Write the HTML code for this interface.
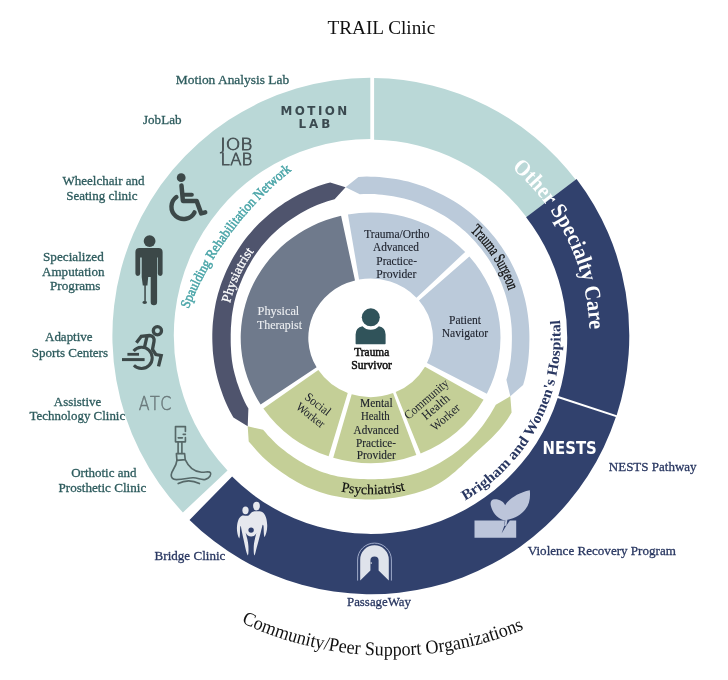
<!DOCTYPE html>
<html><head><meta charset="utf-8"><title>TRAIL Clinic</title>
<style>
html,body{margin:0;padding:0;background:#fff;}
body{width:728px;height:680px;overflow:hidden;position:relative;font-family:"Liberation Serif",serif;}
svg{position:absolute;left:0;top:0;display:block;will-change:transform;}
svg text{font-family:"Liberation Serif",serif;}
svg text.sans{font-family:"Liberation Sans",sans-serif;}
svg text.dj{font-family:"DejaVu Sans","Liberation Sans",sans-serif;}
svg text.thin{font-family:"DejaVu Sans","Liberation Sans",sans-serif;font-weight:200;}
</style></head>
<body>
<svg width="728" height="680" viewBox="0 0 728 680">
<rect width="728" height="680" fill="#ffffff"/>
<defs>
<path id="pSp" d="M188.54,309.05 A333.60,333.60 0 0 1 291.74,170.60" fill="none"/>
<path id="pPh" d="M230.01,303.15 A145.00,145.00 0 0 1 253.99,251.36" fill="none"/>
<path id="pTs" d="M470.21,230.98 A145.20,145.20 0 0 1 508.62,290.69" fill="none"/>
<path id="pPs" d="M340.99,491.41 A157.30,157.30 0 0 0 405.31,490.51" fill="none"/>
<path id="pBr" d="M464.94,500.69 A189.60,189.60 0 0 0 559.94,320.13" fill="none"/>
<path id="pOt" d="M511.61,168.19 A218.60,218.60 0 0 1 589.31,329.30" fill="none"/>
<path id="pCo" d="M241.22,622.50 A350.80,350.80 0 0 0 523.99,629.18" fill="none"/>
</defs>
<path d="M182.90,512.47 A257.60,257.60 0 0 1 370.30,77.80 L370.30,138.90 A196.50,196.50 0 0 0 227.53,470.41 Z" fill="#bad8d7"/>
<path d="M374.10,78.12 A257.30,257.30 0 0 1 575.75,179.84 L526.60,217.14 A195.60,195.60 0 0 0 374.10,139.83 Z" fill="#bad8d7"/>
<path d="M576.57,178.93 A258.50,258.50 0 0 1 616.68,415.19 L558.29,395.99 A196.40,196.40 0 0 0 526.12,217.29 Z" fill="#31416d"/>
<path d="M615.85,417.02 A258.00,258.00 0 0 1 189.52,519.88 L232.10,476.55 A196.40,196.40 0 0 0 557.68,397.90 Z" fill="#31416d"/>
<path d="M247.7,426.2 L233.4,417.4 L231.3,413.8 L229.4,410.2 L227.6,406.4 L225.9,402.7 L224.3,398.9 L222.8,395.0 L221.4,391.1 L220.1,387.2 L218.9,383.3 L217.7,379.3 L216.7,375.3 L215.8,371.3 L215.0,367.3 L214.3,363.2 L213.7,359.1 L213.2,355.0 L212.8,350.9 L212.6,346.8 L212.4,342.7 L212.3,338.6 L212.3,334.5 L212.4,330.4 L212.6,326.3 L212.9,322.2 L213.4,318.1 L213.9,314.0 L214.5,309.9 L215.2,305.9 L216.0,301.8 L217.0,297.8 L218.0,293.8 L219.2,289.9 L220.4,285.9 L221.8,282.0 L223.3,278.2 L224.8,274.4 L226.5,270.6 L228.2,266.9 L230.1,263.2 L232.0,259.5 L234.0,255.9 L236.2,252.4 L238.4,248.9 L240.7,245.5 L243.1,242.1 L245.5,238.8 L248.1,235.6 L250.8,232.4 L253.5,229.3 L256.3,226.3 L259.2,223.3 L262.2,220.5 L265.3,217.7 L268.4,215.0 L271.6,212.3 L274.8,209.8 L278.1,207.3 L281.5,204.9 L284.9,202.6 L288.4,200.4 L292.0,198.3 L295.6,196.2 L299.3,194.3 L303.0,192.4 L306.7,190.7 L310.5,189.1 L314.4,187.5 L318.3,186.1 L322.2,184.7 L326.2,183.5 L330.2,182.4 L345.6,187.2 L334.6,199.2 L331.0,200.2 L327.5,201.3 L324.0,202.5 L320.5,203.8 L317.1,205.1 L313.7,206.6 L310.4,208.1 L307.0,209.8 L303.8,211.5 L300.6,213.3 L297.4,215.2 L294.3,217.2 L291.2,219.2 L288.2,221.3 L285.2,223.5 L282.3,225.8 L279.5,228.1 L276.7,230.6 L274.0,233.1 L271.3,235.6 L268.7,238.2 L266.2,240.9 L263.8,243.7 L261.4,246.6 L259.2,249.5 L257.0,252.4 L254.9,255.5 L252.9,258.6 L251.0,261.7 L249.2,264.9 L247.4,268.1 L245.7,271.4 L244.1,274.7 L242.6,278.0 L241.2,281.4 L239.8,284.8 L238.5,288.2 L237.3,291.7 L236.2,295.1 L235.2,298.7 L234.3,302.2 L233.6,305.8 L232.9,309.4 L232.3,313.0 L231.8,316.6 L231.5,320.2 L231.2,323.9 L230.9,327.5 L230.8,331.1 L230.7,334.8 L230.7,338.4 L230.7,342.1 L230.8,345.7 L231.0,349.3 L231.2,353.0 L231.5,356.6 L231.9,360.3 L232.5,363.9 L233.1,367.5 L233.9,371.1 L234.8,374.6 L235.8,378.1 L236.8,381.7 L238.0,385.1 L239.2,388.6 L240.5,392.1 L241.9,395.5 L243.3,398.8 L244.9,402.2 L246.6,405.4 L248.4,408.6 Z" fill="#4f546d"/>
<path d="M345.6,187.2 L358.4,177.0 L362.6,176.7 L366.8,176.6 L370.9,176.7 L375.1,176.8 L379.3,177.1 L383.4,177.5 L387.6,177.9 L391.7,178.5 L395.8,179.1 L399.9,179.8 L404.0,180.7 L408.1,181.6 L412.1,182.7 L416.1,183.9 L420.0,185.2 L424.0,186.6 L427.8,188.1 L431.7,189.7 L435.5,191.4 L439.2,193.2 L442.9,195.0 L446.6,197.0 L450.2,199.0 L453.7,201.1 L457.3,203.3 L460.7,205.6 L464.1,208.0 L467.4,210.5 L470.6,213.1 L473.8,215.8 L476.9,218.5 L479.9,221.3 L482.9,224.2 L485.8,227.2 L488.6,230.3 L491.3,233.4 L493.9,236.6 L496.5,239.8 L498.9,243.2 L501.3,246.5 L503.6,250.0 L505.8,253.5 L508.0,257.0 L510.0,260.6 L511.9,264.3 L513.8,268.0 L515.5,271.7 L517.2,275.5 L518.7,279.3 L520.1,283.2 L521.5,287.1 L522.7,291.1 L523.8,295.0 L524.9,299.0 L525.8,303.1 L526.6,307.1 L527.3,311.2 L527.9,315.3 L528.4,319.4 L528.8,323.5 L529.1,327.6 L529.3,331.7 L529.4,335.8 L529.4,340.0 L529.3,344.1 L529.2,348.2 L528.9,352.4 L528.6,356.5 L528.2,360.6 L527.6,364.7 L527.0,368.8 L526.2,372.9 L525.3,377.0 L524.3,381.0 L523.1,385.0 L510.3,396.2 L506.4,379.7 L507.5,376.2 L508.4,372.6 L509.2,369.0 L509.8,365.3 L510.4,361.7 L510.9,358.0 L511.2,354.3 L511.5,350.7 L511.7,347.0 L511.8,343.3 L511.9,339.6 L511.9,336.0 L511.8,332.3 L511.7,328.6 L511.4,325.0 L511.0,321.3 L510.6,317.7 L510.0,314.0 L509.4,310.4 L508.7,306.8 L507.8,303.2 L506.9,299.7 L505.9,296.1 L504.8,292.6 L503.6,289.2 L502.3,285.7 L501.0,282.3 L499.5,279.0 L497.9,275.6 L496.3,272.3 L494.6,269.1 L492.8,265.9 L490.9,262.7 L488.9,259.6 L486.9,256.6 L484.7,253.6 L482.5,250.6 L480.3,247.7 L477.9,244.9 L475.5,242.1 L473.1,239.4 L470.5,236.7 L467.9,234.1 L465.2,231.6 L462.4,229.2 L459.6,226.8 L456.7,224.5 L453.8,222.3 L450.8,220.2 L447.7,218.1 L444.6,216.1 L441.4,214.3 L438.2,212.5 L435.0,210.7 L431.7,209.0 L428.3,207.4 L425.0,205.9 L421.6,204.4 L418.1,203.1 L414.7,201.8 L411.2,200.6 L407.6,199.5 L404.0,198.6 L400.4,197.7 L396.8,197.0 L393.1,196.3 L389.5,195.7 L385.8,195.2 L382.1,194.8 L378.4,194.4 L374.7,194.1 L371.0,194.0 L367.2,193.9 L363.5,194.0 L359.8,194.2 Z" fill="#bbcada"/>
<path d="M510.3,396.2 L511.6,412.4 L509.5,416.0 L507.3,419.4 L504.9,422.8 L502.4,426.1 L499.8,429.2 L497.0,432.3 L494.2,435.3 L491.3,438.2 L488.4,441.1 L485.4,443.8 L482.4,446.6 L479.4,449.3 L476.4,452.0 L473.4,454.7 L470.5,457.5 L467.5,460.3 L464.5,463.1 L461.5,465.9 L458.5,468.6 L455.4,471.4 L452.2,474.1 L448.9,476.7 L445.5,479.2 L442.1,481.6 L438.5,483.8 L434.8,485.8 L431.1,487.7 L427.2,489.3 L423.2,490.7 L419.2,492.0 L415.2,493.2 L411.1,494.3 L407.0,495.3 L402.9,496.2 L398.8,497.0 L394.7,497.7 L390.5,498.3 L386.3,498.7 L382.1,499.1 L377.9,499.3 L373.7,499.5 L369.5,499.5 L365.3,499.4 L361.1,499.3 L356.9,499.0 L352.7,498.7 L348.5,498.2 L344.3,497.7 L340.1,497.0 L336.0,496.2 L331.9,495.4 L327.8,494.4 L323.7,493.2 L319.6,492.0 L315.6,490.6 L311.7,489.1 L307.8,487.5 L304.0,485.7 L300.2,483.8 L296.5,481.7 L292.8,479.6 L289.3,477.4 L285.7,475.1 L282.3,472.7 L278.8,470.3 L275.4,467.8 L272.1,465.3 L268.9,462.6 L265.7,459.8 L262.7,456.9 L259.8,453.9 L257.0,450.9 L254.2,447.7 L251.4,444.6 L248.7,441.4 L247.7,426.2 L263.1,429.8 L265.6,432.6 L268.0,435.4 L270.6,438.1 L273.2,440.8 L275.9,443.4 L278.6,445.9 L281.4,448.3 L284.4,450.6 L287.4,452.9 L290.4,455.0 L293.5,457.2 L296.6,459.2 L299.8,461.2 L303.0,463.1 L306.3,464.9 L309.6,466.6 L313.0,468.3 L316.4,469.8 L319.9,471.2 L323.4,472.5 L327.0,473.6 L330.6,474.7 L334.2,475.6 L337.9,476.4 L341.6,477.0 L345.3,477.6 L349.0,478.1 L352.7,478.5 L356.4,478.7 L360.1,479.0 L363.8,479.1 L367.6,479.2 L371.3,479.2 L375.0,479.2 L378.7,479.1 L382.4,478.9 L386.1,478.7 L389.9,478.4 L393.6,478.1 L397.3,477.6 L401.0,477.0 L404.7,476.3 L408.3,475.5 L412.0,474.6 L415.6,473.6 L419.1,472.4 L422.7,471.1 L426.1,469.7 L429.6,468.1 L433.0,466.5 L436.3,464.8 L439.6,463.0 L442.8,461.1 L446.0,459.1 L449.1,457.1 L452.2,454.9 L455.2,452.7 L458.2,450.4 L461.1,448.1 L463.9,445.7 L466.8,443.2 L469.5,440.7 L472.1,438.0 L474.7,435.3 L477.1,432.5 L479.5,429.6 L481.8,426.7 L484.0,423.7 L486.2,420.6 L488.2,417.5 L490.2,414.4 L492.1,411.2 L494.0,408.0 L495.8,404.8 Z" fill="#c4cf97"/>
<path d="M260.59,404.43 A129.9,125.3 0 0 1 341.08,215.78 L355.00,280.39 A62.3,59.3 0 0 0 316.60,367.37 Z" fill="#6f7a8c"/>
<path d="M347.96,214.42 A129.9,125.3 0 0 1 465.17,251.90 L416.45,297.66 A62.3,59.3 0 0 0 359.06,279.53 Z" fill="#bbcada"/>
<path d="M469.35,256.40 A129.9,125.3 0 0 1 486.84,393.74 L426.98,363.02 A62.3,59.3 0 0 0 419.00,300.46 Z" fill="#bbcada"/>
<path d="M483.57,399.65 A129.9,125.3 0 0 1 420.64,453.43 L395.68,392.08 A62.3,59.3 0 0 0 424.99,366.72 Z" fill="#c4cf97"/>
<path d="M416.33,455.08 A129.9,125.3 0 0 1 333.22,457.80 L351.69,394.30 A62.3,59.3 0 0 0 393.06,393.11 Z" fill="#c4cf97"/>
<path d="M328.61,456.37 A129.9,125.3 0 0 1 263.36,408.51 L318.34,370.08 A62.3,59.3 0 0 0 347.75,392.97 Z" fill="#c4cf97"/>
<g fill="#30535a">
<path d="M355.6,343.6 V334.5 Q355.6,327.6 362.5,326.2 A11.3,11.3 0 0 0 378.9,326.2 Q385.6,327.6 385.6,334.5 V343.6 Q385.6,344.2 385,344.2 H356.2 Q355.6,344.2 355.6,343.6 Z"/>
<circle cx="370.8" cy="317.3" r="9.0"/>
</g>
<g fill="none" stroke="#3c4848" stroke-width="4.5" stroke-linecap="round" stroke-linejoin="round">
<circle cx="181.2" cy="177.7" r="4.4" fill="#3c4848" stroke="none"/>
<path d="M181.5,185.6 L182.9,200.9 H196.6 L201.2,213.4 L205.2,212.3"/>
<path d="M183.6,194.7 H191.8" stroke-width="4.1"/>
<path d="M176.4,197.0 A12.2,12.2 0 1 0 194.5,212.4" stroke-width="4.4"/>
</g>
<g fill="#3c4848">
<circle cx="149.6" cy="241.1" r="5.9"/>
<path d="M139.4,247.9 H158.5 Q162.6,247.9 162.6,252 V273.6 A2.4,2.4 0 0 1 157.8,273.6 V257.5 H157.1 V302 A3.2,3.2 0 0 1 150.7,302 V277 H148.2 L147.4,285.5 H142.8 L141.7,277 V257.5 H140.2 V273.6 A2.4,2.4 0 0 1 135.4,273.6 V252 Q135.4,247.9 139.4,247.9 Z"/>
<rect x="144.3" y="285" width="1.5" height="16.5"/>
<ellipse cx="144.7" cy="302.5" rx="2.3" ry="1.4"/>
</g>
<g fill="none" stroke="#3c4848" stroke-width="3.3" stroke-linejoin="miter">
<circle cx="157.4" cy="330.8" r="4.1" stroke-width="3.3"/>
<path d="M136.4,342.8 L141.3,336.3 L149.4,335.5 Q154.8,336 154.0,341.4 L152.5,349.4 L155.8,354.5 L161.2,355.5 L158.5,366.4"/>
<path d="M147.0,336.4 L144.4,347.6" />
<path d="M133.6,351.0 A10.6,10.6 0 1 1 133.9,365.2" stroke-width="3.0"/>
<path d="M127.4,354.3 H139" stroke-width="2.8"/>
<path d="M122.0,359.6 H144.6" stroke-width="3.0"/>
</g>
<g fill="none" stroke="#566868" stroke-width="1.65" stroke-linejoin="round" stroke-linecap="round">
<path d="M185.4,431.5 V426.6 H175.5 V441.8 H185.4 V437.6 M183.2,434.3 H185.4 M178.2,437.8 H182.4"/>
<path d="M178.1,441.8 V453.4 M181.9,441.8 V453.4"/>
<path d="M176.4,453.6 H184.6 L185.2,459.6 L176.9,460.4 Z"/>
<path d="M176.9,460.4 C176.4,467 171.2,470.6 171.2,475 C171.2,478.6 173.4,479.6 176.4,479.6 C185,479.6 188,477.6 193.4,477.8 C198.4,478 201.4,480.4 205.4,479.4 C209.6,478.2 211.6,474.6 210.4,472.6 C209.4,471 205.6,472.4 201.4,472.2 C194.4,471.8 188.4,466.6 185.2,459.6"/>
<path d="M178.2,483.6 Q188.6,478 199.4,483.6"/>
</g>
<g fill="#e6e8ee">
<ellipse cx="245.5" cy="510.3" rx="3.1" ry="3.9"/>
<ellipse cx="256.5" cy="506.1" rx="3.4" ry="4.3"/>
<path d="M241.5,516 C243.5,514.6 246.4,516.6 248.6,515.4 C250.6,514.2 251.2,512 253.6,511.6 C256,511.2 259.6,511 261.6,511.8 C265.6,513.4 267,519.6 267.2,525 C267.4,530 266,535 264.4,537.2 C263.6,535 263.8,530 263.6,526.6 C263.4,524.6 262.8,524 262.4,525.4 C261.4,529.6 258.6,541 256.6,548 C255.8,551 255.2,554.6 254.5,555.4 C253.6,554.6 253.6,549 253.8,545.6 C254,541.8 255.4,536.6 256.6,532.6 C255.4,535.6 253.6,536.6 251.2,536.6 C248.6,536.6 246.8,535.4 245.6,532.6 C246.8,537 248.2,542 248.4,546 C248.6,550 248.6,554.4 247.8,555.4 C247,554.4 246,551 245.4,548 C244,541 241.6,531 241,527 C240.8,525.6 240.4,525.8 240.2,527.4 C239.8,531 240.4,536 239.2,538.4 C237.6,536 236.6,531 237,526.6 C237.4,522 238.6,517.6 241.5,516 Z"/>
<circle cx="251.1" cy="530.1" r="2.7" fill="#2f3f6c"/>
</g>
<g>
<path d="M357.6,580.6 V560 A16.9,16.9 0 0 1 391.4,560 V580.6" fill="none" stroke="#aab5d2" stroke-width="0.9"/>
<path d="M360.2,580.6 V559.6 A14.3,14.3 0 0 1 388.8,559.6 V580.6 L378.6,570.4 V560.6 A4.1,4.1 0 0 0 370.4,560.6 V570.4 Z" fill="#dfe3eb"/>
<rect x="370.6" y="562.4" width="1.3" height="1.3" fill="#dfe3eb"/>
</g>
<g fill="#bcc5da">
<path d="M474.5,520.5 H504.8 L504.2,526 L501.6,533.6 L506.4,525.6 L509.9,520.5 H516.2 V537.7 H474.5 Z"/>
<path d="M505.4,520.6 C498,519.6 492.4,512.6 490.8,505.6 C490,501.6 491.4,499.4 494.6,499.2 C499.4,499 503.6,501.6 505.2,505.2 C508.6,499.4 517.6,492.6 529.8,490.2 C530.6,497.6 529.4,504 525.6,509 C521.6,514.6 514,518.6 507.4,519.8 L506.4,525.6 L504.2,526 Z"/>
</g>
<text x="327.5" y="34.2" font-size="19.2" fill="#111111" stroke="#111111" stroke-width="0" font-weight="normal" textLength="107.7" lengthAdjust="spacingAndGlyphs" >TRAIL Clinic</text>
<text x="175.8" y="83.6" font-size="13.3" fill="#2e5c5e" stroke="#2e5c5e" stroke-width="0.3" font-weight="normal" textLength="113.4" lengthAdjust="spacingAndGlyphs" >Motion Analysis Lab</text>
<text x="143.0" y="123.6" font-size="13.3" fill="#2e5c5e" stroke="#2e5c5e" stroke-width="0.3" font-weight="normal" textLength="38.5" lengthAdjust="spacingAndGlyphs" >JobLab</text>
<text x="62.5" y="184.5" font-size="13.3" fill="#2e5c5e" stroke="#2e5c5e" stroke-width="0.3" font-weight="normal" textLength="82.1" lengthAdjust="spacingAndGlyphs" >Wheelchair and</text>
<text x="66.2" y="199.5" font-size="13.3" fill="#2e5c5e" stroke="#2e5c5e" stroke-width="0.3" font-weight="normal" textLength="71.3" lengthAdjust="spacingAndGlyphs" >Seating clinic</text>
<text x="43.0" y="260.5" font-size="13.3" fill="#2e5c5e" stroke="#2e5c5e" stroke-width="0.3" font-weight="normal" textLength="60.8" lengthAdjust="spacingAndGlyphs" >Specialized</text>
<text x="42.0" y="275.6" font-size="13.3" fill="#2e5c5e" stroke="#2e5c5e" stroke-width="0.3" font-weight="normal" textLength="62.5" lengthAdjust="spacingAndGlyphs" >Amputation</text>
<text x="50.0" y="290.0" font-size="13.3" fill="#2e5c5e" stroke="#2e5c5e" stroke-width="0.3" font-weight="normal" textLength="50.5" lengthAdjust="spacingAndGlyphs" >Programs</text>
<text x="45.0" y="341.4" font-size="13.3" fill="#2e5c5e" stroke="#2e5c5e" stroke-width="0.3" font-weight="normal" textLength="47.6" lengthAdjust="spacingAndGlyphs" >Adaptive</text>
<text x="31.7" y="356.6" font-size="13.3" fill="#2e5c5e" stroke="#2e5c5e" stroke-width="0.3" font-weight="normal" textLength="76.3" lengthAdjust="spacingAndGlyphs" >Sports Centers</text>
<text x="53.8" y="405.8" font-size="13.3" fill="#2e5c5e" stroke="#2e5c5e" stroke-width="0.3" font-weight="normal" textLength="47.4" lengthAdjust="spacingAndGlyphs" >Assistive</text>
<text x="29.5" y="420.4" font-size="13.3" fill="#2e5c5e" stroke="#2e5c5e" stroke-width="0.3" font-weight="normal" textLength="95.7" lengthAdjust="spacingAndGlyphs" >Technology Clinic</text>
<text x="71.2" y="477.4" font-size="13.3" fill="#2e5c5e" stroke="#2e5c5e" stroke-width="0.3" font-weight="normal" textLength="65.3" lengthAdjust="spacingAndGlyphs" >Orthotic and</text>
<text x="58.5" y="492.0" font-size="13.3" fill="#2e5c5e" stroke="#2e5c5e" stroke-width="0.3" font-weight="normal" textLength="87.7" lengthAdjust="spacingAndGlyphs" >Prosthetic Clinic</text>
<text x="154.6" y="560.0" font-size="13.3" fill="#2a3862" stroke="#2a3862" stroke-width="0.3" font-weight="normal" textLength="70.8" lengthAdjust="spacingAndGlyphs" >Bridge Clinic</text>
<text x="347.0" y="606.2" font-size="13.3" fill="#2a3862" stroke="#2a3862" stroke-width="0.3" font-weight="normal" textLength="64.0" lengthAdjust="spacingAndGlyphs" >PassageWay</text>
<text x="527.8" y="555.4" font-size="13.3" fill="#2a3862" stroke="#2a3862" stroke-width="0.3" font-weight="normal" textLength="148.1" lengthAdjust="spacingAndGlyphs" >Violence Recovery Program</text>
<text x="608.8" y="471.0" font-size="13.3" fill="#2a3862" stroke="#2a3862" stroke-width="0.3" font-weight="normal" textLength="87.8" lengthAdjust="spacingAndGlyphs" >NESTS Pathway</text>
<text x="257.6" y="315.2" font-size="12.5" fill="#eceef1" stroke="#eceef1" stroke-width="0.12" font-weight="normal" textLength="41.7" lengthAdjust="spacingAndGlyphs" >Physical</text>
<text x="257.1" y="328.8" font-size="12.5" fill="#eceef1" stroke="#eceef1" stroke-width="0.12" font-weight="normal" textLength="44.9" lengthAdjust="spacingAndGlyphs" >Therapist</text>
<text x="364.2" y="238.1" font-size="12.5" fill="#1b1f2a" stroke="#1b1f2a" stroke-width="0.12" font-weight="normal" textLength="65.4" lengthAdjust="spacingAndGlyphs" >Trauma/Ortho</text>
<text x="373.0" y="251.4" font-size="12.5" fill="#1b1f2a" stroke="#1b1f2a" stroke-width="0.12" font-weight="normal" textLength="46.0" lengthAdjust="spacingAndGlyphs" >Advanced</text>
<text x="376.3" y="264.6" font-size="12.5" fill="#1b1f2a" stroke="#1b1f2a" stroke-width="0.12" font-weight="normal" textLength="40.7" lengthAdjust="spacingAndGlyphs" >Practice-</text>
<text x="376.3" y="277.5" font-size="12.5" fill="#1b1f2a" stroke="#1b1f2a" stroke-width="0.12" font-weight="normal" textLength="40.1" lengthAdjust="spacingAndGlyphs" >Provider</text>
<text x="449.0" y="324.0" font-size="12.5" fill="#1b1f2a" stroke="#1b1f2a" stroke-width="0.12" font-weight="normal" textLength="32.0" lengthAdjust="spacingAndGlyphs" >Patient</text>
<text x="441.7" y="337.2" font-size="12.5" fill="#1b1f2a" stroke="#1b1f2a" stroke-width="0.12" font-weight="normal" textLength="46.4" lengthAdjust="spacingAndGlyphs" >Navigator</text>
<text x="360.0" y="406.6" font-size="12.5" fill="#1b1f2a" stroke="#1b1f2a" stroke-width="0.12" font-weight="normal" textLength="32.6" lengthAdjust="spacingAndGlyphs" >Mental</text>
<text x="360.9" y="420.2" font-size="12.5" fill="#1b1f2a" stroke="#1b1f2a" stroke-width="0.12" font-weight="normal" textLength="28.8" lengthAdjust="spacingAndGlyphs" >Health</text>
<text x="353.6" y="433.6" font-size="12.5" fill="#1b1f2a" stroke="#1b1f2a" stroke-width="0.12" font-weight="normal" textLength="45.3" lengthAdjust="spacingAndGlyphs" >Advanced</text>
<text x="356.0" y="446.8" font-size="12.5" fill="#1b1f2a" stroke="#1b1f2a" stroke-width="0.12" font-weight="normal" textLength="40.0" lengthAdjust="spacingAndGlyphs" >Practice-</text>
<text x="356.8" y="459.4" font-size="12.5" fill="#1b1f2a" stroke="#1b1f2a" stroke-width="0.12" font-weight="normal" textLength="39.0" lengthAdjust="spacingAndGlyphs" >Provider</text>
<text transform="translate(304.0,398.4) rotate(38.0)" font-size="12.5" fill="#1b1f2a" font-weight="normal" textLength="29.1" lengthAdjust="spacingAndGlyphs">Social</text>
<text transform="translate(295.2,408.2) rotate(38.1)" font-size="12.5" fill="#1b1f2a" font-weight="normal" textLength="33.0" lengthAdjust="spacingAndGlyphs">Worker</text>
<text transform="translate(408.5,420.0) rotate(-40.9)" font-size="12.5" fill="#1b1f2a" font-weight="normal" textLength="54.2" lengthAdjust="spacingAndGlyphs">Community</text>
<text transform="translate(426.0,420.5) rotate(-40.6)" font-size="12.5" fill="#1b1f2a" font-weight="normal" textLength="32.3" lengthAdjust="spacingAndGlyphs">Health</text>
<text transform="translate(435.0,431.5) rotate(-40.9)" font-size="12.5" fill="#1b1f2a" font-weight="normal" textLength="34.4" lengthAdjust="spacingAndGlyphs">Worker</text>
<text x="354.3" y="355.9" font-size="12.2" fill="#111" stroke="#111" stroke-width="0.5" font-weight="normal" textLength="34.9" lengthAdjust="spacingAndGlyphs" >Trauma</text>
<text x="351.2" y="368.5" font-size="12.2" fill="#111" stroke="#111" stroke-width="0.5" font-weight="normal" textLength="40.8" lengthAdjust="spacingAndGlyphs" >Survivor</text>
<text class="dj" x="280.6" y="114.8" font-size="11.9" font-weight="bold" fill="#3b4a50" textLength="66.6" lengthAdjust="spacing">MOTION</text>
<text class="dj" x="298.4" y="128.3" font-size="11.9" font-weight="bold" fill="#3b4a50" textLength="32.0" lengthAdjust="spacing">LAB</text>
<text class="thin" x="220.2" y="150.0" font-size="16" fill="#4a5558" stroke="#4a5558" stroke-width="0.8" textLength="32.3" lengthAdjust="spacingAndGlyphs">JOB</text>
<text class="thin" x="220.6" y="165.0" font-size="16" fill="#4a5558" stroke="#4a5558" stroke-width="0.8" textLength="31.8" lengthAdjust="spacingAndGlyphs">LAB</text>
<text class="thin" transform="translate(138.8,410.2) scale(0.8,1)" font-size="19.8" fill="#6a797b" stroke="#6a797b" stroke-width="0.55" textLength="40.6" lengthAdjust="spacing">ATC</text>
<text class="dj" x="542.6" y="453.9" font-size="17.6" font-weight="bold" fill="#ffffff" textLength="54.2" lengthAdjust="spacingAndGlyphs">NESTS</text>
<text font-size="13.8" fill="#4aa5a8" font-weight="normal" stroke="#4aa5a8" stroke-width="0.5"><textPath href="#pSp" textLength="174.7" lengthAdjust="spacingAndGlyphs">Spaulding Rehabilitation Network</textPath></text>
<text font-size="13.4" fill="#ffffff" font-weight="normal" stroke="#ffffff" stroke-width="0.3"><textPath href="#pPh" textLength="57.4" lengthAdjust="spacingAndGlyphs">Physiatrist</textPath></text>
<text font-size="16.5" fill="#111111" font-weight="normal" stroke="#111111" stroke-width="0.35"><textPath href="#pTs" textLength="71.7" lengthAdjust="spacingAndGlyphs">Trauma Surgeon</textPath></text>
<text font-size="14.2" fill="#111111" font-weight="normal" stroke="#111111" stroke-width="0.2"><textPath href="#pPs" textLength="64.8" lengthAdjust="spacingAndGlyphs">Psychiatrist</textPath></text>
<text font-size="14.6" fill="#2a3862" font-weight="bold" ><textPath href="#pBr" textLength="215.4" lengthAdjust="spacingAndGlyphs">Brigham and Women's Hospital</textPath></text>
<text font-size="22.3" fill="#ffffff" font-weight="bold" ><textPath href="#pOt" textLength="184.3" lengthAdjust="spacingAndGlyphs">Other Specialty Care</textPath></text>
<text font-size="19.3" fill="#111111" font-weight="normal" ><textPath href="#pCo" textLength="291.1" lengthAdjust="spacingAndGlyphs">Community/Peer Support Organizations</textPath></text>
</svg>
</body></html>
